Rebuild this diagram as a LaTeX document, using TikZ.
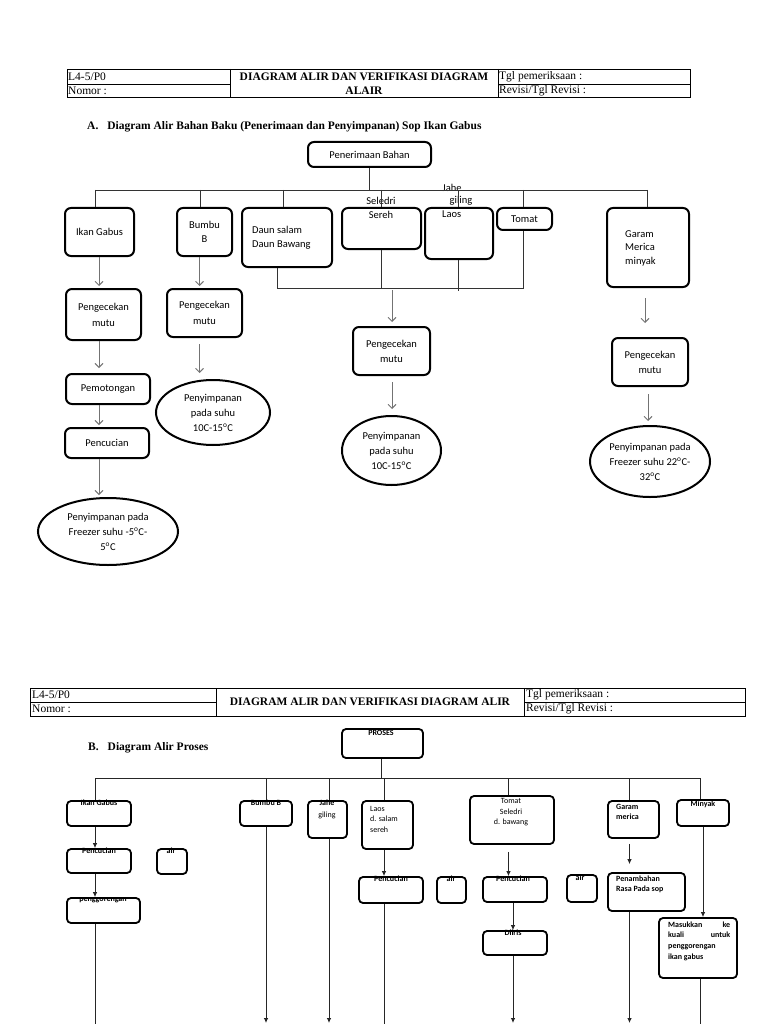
\documentclass[tikz,border=0pt]{standalone}
\usepackage{fontspec}
\setmainfont{Liberation Serif}
\newfontfamily\calfont{Carlito}
\usetikzlibrary{shapes.geometric,arrows.meta}
\begin{document}
\begin{tikzpicture}[x=1pt,y=-1pt,
  hline/.style={draw=black,line width=0.8pt},
  htxt/.style={inner sep=0pt,font=\fontsize{11.5}{13}\selectfont},
  htitle/.style={inner sep=0pt,font=\bfseries\fontsize{11.5}{13}\selectfont},
  head/.style={inner sep=0pt,anchor=west,font=\bfseries\fontsize{11.5}{13}\selectfont},
  abox/.style={draw=black,line width=2pt,rounded corners=6pt,inner sep=0pt,align=center,font=\calfont\fontsize{10.5}{15}\selectfont},
  aell/.style={ellipse,draw=black,line width=2pt,inner sep=0pt,align=center,font=\calfont\fontsize{10.5}{15}\selectfont},
  atxt/.style={inner sep=0pt,font=\calfont\fontsize{10.5}{14}\selectfont},
  sz/.style 2 args={minimum width=#1pt,minimum height=#2pt},
  lnA/.style={draw=black!80,line width=0.9pt},
  arA/.style={draw=black!55,line width=0.9pt,-{Straight Barb[length=4pt,width=8pt]}},
  bbox/.style={draw=black,line width=1.8pt,rounded corners=4pt,inner sep=0pt},
  btxt/.style={inner sep=0pt,font=\calfont\fontsize{8}{10.5}\selectfont},
  bbtxt/.style={inner sep=0pt,font=\calfont\bfseries\fontsize{8}{10.5}\selectfont},
  lnB/.style={draw=black!85,line width=0.8pt},
  arB/.style={lnB,-{Latex[length=5pt,width=4.5pt]}},
]
\fill[white] (0,0) rectangle (768,1024);
\useasboundingbox (0,0) rectangle (768,1024);

% ---------------- Header A
\draw[hline] (67,69) rectangle (690,97);
\draw[hline] (230,69) -- (230,97) (498,69) -- (498,97) (67,84) -- (230,84) (498,84) -- (690,84);
\node[htxt,anchor=west] (ha1) at (68,76.5) {L4-5/P0};
\node[htxt,anchor=west] (ha2) at (68,90.5) {Nomor :};
\node[htitle] (ha3) at (364,76.5) {DIAGRAM ALIR DAN VERIFIKASI DIAGRAM};
\node[htitle] (ha4) at (364,90.5) {ALAIR};
\node[htxt,anchor=west] (ha5) at (499,76.5) {Tgl pemeriksaan :};
\node[htxt,anchor=west] (ha6) at (499,90.5) {Revisi/Tgl Revisi :};

\node[head] (hA) at (87,127) {A.\hspace{9pt}Diagram Alir Bahan Baku (Penerimaan dan Penyimpanan) Sop Ikan Gabus};

% ---------------- Section A boxes
\node[abox,sz={123}{25}] (pb) at (369.5,154.5) {Penerimaan Bahan};
\node[abox,sz={69}{48}] (ig) at (99.5,232) {Ikan Gabus};
\node[abox,sz={55}{48},font=\calfont\fontsize{10.5}{14}\selectfont] (bb) at (204.5,232) {Bumbu\\B};
\node[abox,sz={90}{59}] (ds) at (287,237.5) {};
\node[atxt,anchor=west,align=left] (dst) at (252,238) {Daun salam\\Daun Bawang};
\node[abox,sz={79}{41}] (ss) at (381.5,228.5) {};
\node[atxt,align=center] (sst) at (381,208) {Seledri\\Sereh};
\node[abox,sz={68}{51}] (jl) at (459,233.5) {};
\node[atxt] (jt1) at (452,188) {Jahe};
\node[atxt] (jt2) at (461,201) {giling};
\node[atxt,anchor=west] (jt3) at (442,214) {Laos};
\node[abox,sz={55}{22}] (tm) at (524.5,219) {Tomat};
\node[abox,sz={82}{79}] (gm) at (648,247.5) {};
\node[atxt,anchor=west,align=left,font=\calfont\fontsize{10.5}{13.5}\selectfont] (gmt) at (625,248) {Garam\\Merica\\minyak};

\node[abox,sz={75}{51},font=\calfont\fontsize{10.5}{16}\selectfont] (pm1) at (103.5,314.5) {Pengecekan\\mutu};
\node[abox,sz={84}{30}] (po) at (108,389) {Pemotongan};
\node[abox,sz={84}{30}] (pc) at (107,443) {Pencucian};
\node[aell,sz={140}{67}] (e1) at (108,531.5) {Penyimpanan pada\\Freezer suhu -5\textsuperscript{o}C-\\5\textsuperscript{o}C};

\node[abox,sz={75}{48},font=\calfont\fontsize{10.5}{16}\selectfont] (pm2) at (204.5,313) {Pengecekan\\mutu};
\node[aell,sz={114}{65}] (e2) at (213,412.5) {Penyimpanan\\pada suhu\\10C-15\textsuperscript{o}C};

\node[abox,sz={77}{48}] (pm3) at (391.5,351) {Pengecekan\\mutu};
\node[aell,sz={99}{69}] (e3) at (391.5,450.5) {Penyimpanan\\pada suhu\\10C-15\textsuperscript{o}C};

\node[abox,sz={76}{48}] (pm4) at (650,362) {Pengecekan\\mutu};
\node[aell,sz={120}{71}] (e4) at (650,461.5) {Penyimpanan pada\\Freezer suhu 22\textsuperscript{o}C-\\32\textsuperscript{o}C};

% ---------------- Section A connectors
\coordinate (bAL) at (95,190);
\coordinate (bAR) at (647,190);
\draw[lnA] (bAL) -- (bAR);
\draw[lnA] (pb.south) -- (pb.south |- bAL);
\draw[lnA] (bAL) -- (bAL |- ig.north);
\coordinate (bbx) at ([xshift=-4.5pt]bb.north);
\draw[lnA] (bbx |- bAL) -- (bbx);
\coordinate (dsx) at ([xshift=-4pt]ds.north);
\draw[lnA] (dsx |- bAL) -- (dsx);
\draw[lnA] (ss.north |- bAL) -- (ss.north);
\coordinate (jlx) at ([xshift=-1pt]jl.north);
\draw[lnA] (jlx |- bAL) -- (jlx);
\coordinate (tmx) at ([xshift=-1.5pt]tm.north);
\draw[lnA] (tmx |- bAL) -- (tmx);
\draw[lnA] (bAR) -- (bAR |- gm.north);

\coordinate (cL) at (277,288);
\coordinate (cR) at (523,288);
\coordinate (dsb) at ([xshift=-10pt]ds.south);
\coordinate (tmb) at ([xshift=-1.5pt]tm.south);
\draw[lnA] (dsb) -- (dsb |- cL) -- (cR) -- (tmb);
\draw[lnA] (ss.south) -- (ss.south |- cL);
\coordinate (jlb) at ([xshift=-1pt]jl.south);
\coordinate (jle) at (458,291);
\draw[lnA] (jlb) -- (jlb |- jle);

% left chain
\coordinate (ax) at ([xshift=-0.5pt]ig.south);
\draw[arA,shorten >=2pt] (ax) -- (ax |- pm1.north);
\draw[arA,shorten >=5pt] (ax |- pm1.south) -- (ax |- po.north);
\draw[arA,shorten >=2pt] (ax |- po.south) -- (ax |- pc.north);
\draw[arA,shorten >=2pt] (ax |- pc.south) -- (ax |- e1.north);
% bumbu chain
\coordinate (bx) at ([xshift=-5pt]bb.south);
\draw[arA,shorten >=2pt] (bx) -- (bx |- pm2.north);
\draw[arA,shorten <=6pt,shorten >=6pt] (bx |- pm2.south) -- (bx |- e2.north);
% middle chain
\coordinate (cM) at (392,290);
\draw[arA,shorten >=4pt] (cM) -- (cM |- pm3.north);
\draw[arA,shorten <=6pt,shorten >=6pt] (cM |- pm3.south) -- (cM |- e3.north);
% right chain
\coordinate (rx) at ([xshift=-3pt]gm.south);
\draw[arA,shorten <=10pt,shorten >=14pt] (rx) -- (rx |- pm4.north);
\coordinate (rx2) at ([xshift=-2pt]pm4.south);
\draw[arA,shorten <=7pt,shorten >=4pt] (rx2) -- (rx2 |- e4.north);

% ---------------- Header B
\draw[hline] (30,688) rectangle (745,716);
\draw[hline] (216,688) -- (216,716) (524,688) -- (524,716) (30,702) -- (216,702) (524,702) -- (745,702);
\node[htxt,anchor=west] (hb1) at (32,695) {L4-5/P0};
\node[htxt,anchor=west] (hb2) at (32,709) {Nomor :};
\node[htitle] (hb3) at (370,702) {DIAGRAM ALIR DAN VERIFIKASI DIAGRAM ALIR};
\node[htxt,anchor=west] (hb5) at (526,695) {Tgl pemeriksaan :};
\node[htxt,anchor=west] (hb6) at (526,709) {Revisi/Tgl Revisi :};

\node[head] (hB) at (88,748) {B.\hspace{9pt}Diagram Alir Proses};

% ---------------- Section B boxes
\node[bbox,sz={81}{29}] (pr) at (382.5,743.5) {};
\node[bbtxt] (prt) at (381,733) {PROSES};

\node[bbox,sz={64}{25}] (bg) at (99,813.5) {};
\node[bbtxt] (bgt) at (99,802.5) {Ikan Gabus};
\node[bbox,sz={64}{24}] (bp1) at (99,861) {};
\node[bbtxt] (bp1t) at (99,850.5) {Pencucian};
\node[bbox,sz={30}{25}] (a1) at (172,861.5) {};
\node[bbtxt] (a1t) at (171,850.5) {air};
\node[bbox,sz={73}{25}] (bgr) at (103.5,910.5) {};
\node[bbtxt] (bgrt) at (103,900) {penggorengan};

\node[bbox,sz={52}{25}] (bbb) at (266,813.5) {};
\node[bbtxt] (bbbt) at (266,802.5) {Bumbu B};
\node[bbox,sz={39}{37}] (bjg) at (327.5,819.5) {};
\node[bbtxt] (bjgt) at (327,802.5) {Jahe};
\node[btxt] (bjgt2) at (327,815) {giling};
\node[bbox,sz={51}{48}] (bl) at (387.5,825) {};
\node[btxt,anchor=west,align=left] (blt) at (370,819) {Laos\\d. salam\\sereh};
\node[bbox,sz={64}{26}] (bp2) at (391,890) {};
\node[bbtxt] (bp2t) at (391,879) {Pencucian};
\node[bbox,sz={29}{26}] (a2) at (451.5,890) {};
\node[bbtxt] (a2t) at (451,879) {air};

\node[bbox,sz={84}{48}] (bt) at (512,820) {};
\node[btxt,align=center] (btt) at (511,812.5) {Tomat\\Seledri\\d. bawang};
\node[bbox,sz={64}{25}] (bp3) at (515,889.5) {};
\node[bbtxt] (bp3t) at (513,878.5) {Pencucian};
\node[bbox,sz={64}{24}] (bd) at (515,943) {};
\node[bbtxt] (bdt) at (513,932.5) {Diiris};
\node[bbox,sz={30}{27}] (a3) at (582,888.5) {};
\node[bbtxt] (a3t) at (580,878) {air};

\node[bbox,sz={51}{37}] (bgm) at (633.5,819.5) {};
\node[bbtxt,anchor=west,align=left] (bgmt) at (616,812) {Garam\\merica};
\node[bbox,sz={77}{38}] (bpr) at (646.5,892) {};
\node[bbtxt,anchor=west,align=left] (bprt) at (616,884.5) {Penambahan\\Rasa Pada sop};
\node[bbox,sz={52}{26}] (bm) at (703,813) {};
\node[bbtxt] (bmt) at (703,804) {Minyak};
\node[bbox,sz={78}{60}] (bmk) at (698,948) {};
\node[bbtxt,anchor=west] (bmkt) at (668,941) {\parbox{62pt}{\fontsize{8}{10.7}\selectfont Masukkan\hfill ke\\kuali\hfill untuk\\penggorengan\\ikan gabus}};

% ---------------- Section B connectors
\coordinate (bBL) at (95,778);
\coordinate (bBR) at (700,778);
\coordinate (botA) at (0,1023);
\coordinate (botL) at (0,1026);
\draw[lnB] (bBL) -- (bBR);
\draw[lnB] ([xshift=-1.5pt]pr.south) -- ([xshift=-1.5pt]pr.south |- bBL);

% ikan gabus column
\coordinate (gx) at ([xshift=-4pt]bg.south);
\draw[lnB] (gx |- bBL) -- (gx |- bg.north);
\draw[arB] (gx) -- (gx |- bp1.north);
\draw[arB] (gx |- bp1.south) -- (gx |- bgr.north);
\draw[lnB] (gx |- bgr.south) -- (gx |- botL);
% bumbu
\draw[lnB] (bbb.north |- bBL) -- (bbb.north);
\draw[arB] (bbb.south) -- (bbb.south |- botA);
% jahe
\coordinate (jx) at ([xshift=1.5pt]bjg.south);
\draw[lnB] (jx |- bBL) -- (jx |- bjg.north);
\draw[arB] (jx) -- (jx |- botA);
% laos
\coordinate (lx) at ([xshift=-3.5pt]bl.south);
\draw[lnB] (lx |- bBL) -- (lx |- bl.north);
\draw[arB] (lx) -- (lx |- bp2.north);
\draw[lnB] (lx |- bp2.south) -- (lx |- botL);
% tomat
\coordinate (tx) at ([xshift=-3.5pt]bt.north);
\draw[lnB] (tx |- bBL) -- (tx);
\draw[arB,shorten <=7pt] (tx |- bt.south) -- (tx |- bp3.north);
\coordinate (dx) at ([xshift=-2pt]bp3.south);
\draw[arB] (dx) -- (dx |- bd.north);
\draw[arB] (dx |- bd.south) -- (dx |- botA);
% garam
\coordinate (mx) at ([xshift=-4pt]bgm.south);
\draw[lnB] (mx |- bBL) -- (mx |- bgm.north);
\draw[arB,shorten <=5pt,shorten >=8pt] (mx) -- (mx |- bpr.north);
\draw[arB] (mx |- bpr.south) -- (mx |- botA);
% minyak
\draw[lnB] (bBR) -- (bBR |- bm.north);
\draw[arB] (bm.south) -- (bm.south |- bmk.north);
\draw[lnB] (bBR |- bmk.south) -- (bBR |- botL);
\end{tikzpicture}
\end{document}
